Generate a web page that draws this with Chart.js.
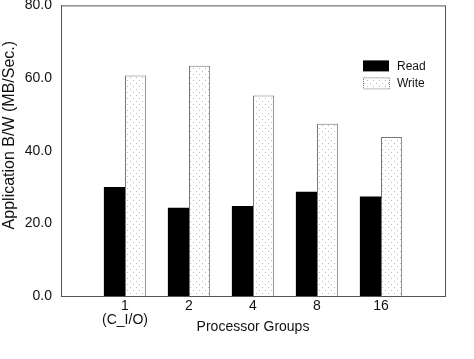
<!DOCTYPE html>
<html>
<head>
<meta charset="utf-8">
<script src="https://cdn.jsdelivr.net/npm/chart.js@4"></script>
<style>
  html, body { margin: 0; padding: 0; background: #fff; overflow: hidden; }
  #wrap { width: 474px; height: 371px; margin-top: -12px; }
</style>
</head>
<body>
<div id="wrap"><canvas id="bw"></canvas></div>
<script>
// data
const groups = ['', ['1', '(C_I/O)'], '2', '4', '8', '16', ''];
const readBW = [null, 30, 24.3, 24.8, 28.7, 27.4, null];
const writeBW = [null, 60.7, 63.4, 55.2, 47.4, 43.8, null];
const yTicks = [0, 20, 40, 60, 80];

const FONT = '"Liberation Sans", Arial, sans-serif';

// light stipple for the write bars
function stipple() {
  const c = document.createElement('canvas');
  c.width = 6; c.height = 6;
  const g = c.getContext('2d');
  g.fillStyle = '#fff';
  g.fillRect(0, 0, 6, 6);
  g.fillStyle = '#bbb';
  g.fillRect(1, 2, 1, 1);
  g.fillRect(4, 5, 1, 1);
  return g.createPattern(c, 'repeat');
}

const frameAndLegend = {
  id: 'frameAndLegend',
  afterDraw(chart) {
    const ctx = chart.ctx;
    const a = chart.chartArea;
    ctx.save();
    ctx.strokeStyle = '#555';
    ctx.lineWidth = 1;
    ctx.strokeRect(a.left + 0.5, a.top + 0.5, a.right - a.left, a.bottom - a.top);
    // legend inside the plot
    const ds = chart.data.datasets;
    let x = a.right - 82, y = a.top + 55;
    ds.forEach((d, i) => {
      ctx.fillStyle = i === 0 ? '#000' : stipple();
      ctx.fillRect(x, y + i * 17, 26, 11);
      if (i === 1) {
        ctx.strokeStyle = '#777';
        ctx.setLineDash([1, 1]);
        ctx.strokeRect(x + 0.5, y + i * 17 + 0.5, 26, 11);
        ctx.setLineDash([]);
      }
      ctx.fillStyle = '#111';
      ctx.font = '12px ' + FONT;
      ctx.textBaseline = 'middle';
      ctx.fillText(d.label, x + 34, y + i * 17 + 6);
    });
    ctx.restore();
  }
};

new Chart(document.getElementById('bw').getContext('2d'), {
  type: 'bar',
  data: {
    labels: groups,
    datasets: [{
      label: 'Read',
      data: readBW,
      backgroundColor: '#000',
      borderWidth: 0
    }, {
      label: 'Write',
      data: writeBW,
      backgroundColor: stipple(),
      borderColor: '#777',
      borderWidth: 1
    }]
  },
  options: {
    responsive: true,
    maintainAspectRatio: false,
    animation: false,
    datasets: { bar: { categoryPercentage: 0.66, barPercentage: 1 } },
    layout: { padding: { top: 6, right: 29, left: 0, bottom: 0 } },
    plugins: { legend: { display: false }, tooltip: { enabled: false } },
    scales: {
      x: {
        offset: false,
        grid: { display: false, drawTicks: false },
        border: { color: '#555' },
        ticks: {
          color: '#111',
          font: { family: FONT, size: 14, lineHeight: 1.0 },
          maxRotation: 0,
          autoSkip: false,
          padding: 3
        },
        title: {
          display: true,
          text: 'Processor Groups',
          color: '#111',
          font: { family: FONT, size: 14 },
          padding: { top: 0, bottom: 23 }
        },
        afterFit(s) { s.height = 63; }
      },
      y: {
        min: 0,
        max: 80,
        grid: { display: false, drawTicks: false },
        border: { color: '#555' },
        afterBuildTicks(s) { s.ticks = yTicks.map(v => ({ value: v })); },
        ticks: {
          color: '#111',
          font: { family: FONT, size: 14 },
          padding: 9,
          callback: v => v.toFixed(1)
        },
        title: {
          display: true,
          text: '       Application B/W (MB/Sec.)',
          color: '#111',
          font: { family: FONT, size: 16 },
          padding: { top: 0, bottom: 2 }
        },
        afterFit(s) { s.width = 61; }
      }
    }
  },
  plugins: [frameAndLegend]
});
</script>
</body>
</html>
